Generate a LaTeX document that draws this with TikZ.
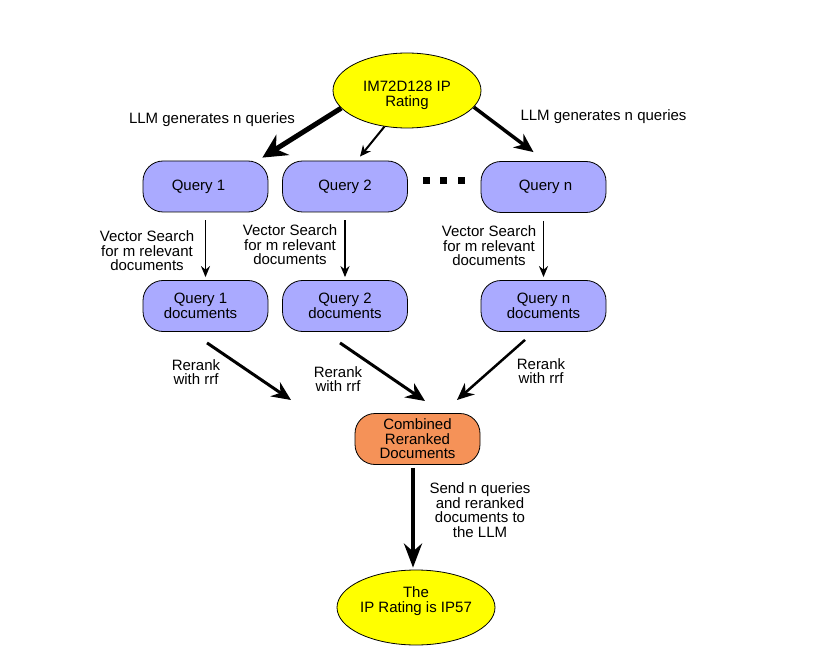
\documentclass[tikz,border=0pt]{standalone}
\usepackage{fontspec}
\setmainfont{Liberation Sans}
\usetikzlibrary{shapes.geometric,arrows.meta}
\definecolor{lemon}{RGB}{255,255,0}
\definecolor{lavender}{RGB}{170,170,255}
\definecolor{salmon}{RGB}{245,146,88}
% text moved up or down inside its shape
\newcommand\nudged[2]{\raisebox{#1}[\height][\depth]{\begin{tabular}{@{}c@{}}#2\end{tabular}}}

\begin{document}
\begin{tikzpicture}[x=1pt,y=-1pt,
  every node/.style={font=\fontsize{15}{14.5}\selectfont,align=center},
  oval/.style={ellipse,draw,line width=0.8pt,fill=lemon,minimum width=148pt,minimum height=75pt,inner sep=0pt},
  pill/.style={draw,line width=0.8pt,fill=lavender,rounded corners=20pt,minimum width=125pt,minimum height=51pt,inner sep=0pt},
  lbl/.style={inner sep=0pt}]
\useasboundingbox (0,0) rectangle (840,660);

% nodes
\node[oval] (R) at (407,90.5) {\nudged{-5.5pt}{IM72D128 IP\\Rating}};
\node[pill] (Q1) at (205.5,186.5) {Query 1\hspace*{14pt}};
\node[pill] (Q2) at (345,186.5) {Query 2};
\node[pill] (Qn) at (543.5,187) {\hspace*{4pt}Query n};
\node[pill] (D1) at (205.5,306) {\nudged{-2pt}{Query 1\\documents}\hspace*{10pt}};
\node[pill] (D2) at (345,306) {Query 2\\documents};
\node[pill] (Dn) at (543.5,306) {Query n\\documents};
\node[pill,fill=salmon] (C) at (417.5,439) {Combined\\Reranked\\Documents};
\node[oval] (F) at (416,607.5) {\nudged{5.5pt}{The\\IP Rating is IP57}};
\foreach \x in {426.5,443.5,461}
  \fill (\x-3.5,177.5) rectangle (\x+3.5,184.5);

% labels
\node[lbl] (L1) at (212,120) {LLM generates n queries};
\node[lbl] (L2) at (603.5,116.5) {LLM generates n queries};
\node[lbl] (V1) at (147,251) {Vector Search\\for m relevant\\documents};
\node[lbl] (V2) at (290,245) {Vector Search\\for m relevant\\documents};
\node[lbl] (Vn) at (489,246) {Vector Search\\for m relevant\\documents};
\node[lbl] (K1) at (196,372) {Rerank\\with rrf};
\node[lbl] (K2) at (338,379) {Rerank\\with rrf};
\node[lbl] (Kn) at (541,371) {Rerank\\with rrf};
\node[lbl] (S) at (480,510) {Send n queries\\and reranked\\documents to\\the LLM};

\coordinate (t1) at (291,400);
\coordinate (t2) at (425,401);
\coordinate (tn) at (457,400);

% edges
\draw[line width=5pt,-{Stealth[length=24pt,width=24pt,inset=8pt]}] (R.195) -- ([xshift=-6pt,yshift=3pt]Q1.north east);
\draw[line width=2pt,-{Stealth[length=11pt,width=10pt]}] (R.238) -- ([xshift=15pt,yshift=4pt]Q2.north);
\draw[line width=3.5pt,-{Stealth[length=19pt,width=17pt]}] (R.346) -- ([xshift=-10pt,yshift=9pt]Qn.north);
\foreach \a/\b in {Q1/D1,Q2/D2,Qn/Dn}
  \draw[line width=1.8pt,-{Stealth[length=11pt,width=9pt]}] ([yshift=-8pt]\a.south) -- ([yshift=3pt]\b.north);
\draw[line width=3pt,-{Stealth[length=19pt,width=17pt]}] ([shift={(1.5pt,-11pt)}]D1.south) -- (t1);
\draw[line width=3pt,-{Stealth[length=19pt,width=17pt]}] ([shift={(-5pt,-11pt)}]D2.south) -- (t2);
\draw[line width=2.5pt,-{Stealth[length=17pt,width=15pt]}] ([shift={(-18.5pt,-8pt)}]Dn.south) -- (tn);
\draw[line width=4pt,-{Stealth[length=24pt,width=18pt]}] ([shift={(-4.5pt,-3pt)}]C.south) -- ([xshift=-3pt,yshift=2pt]F.north);
\end{tikzpicture}
\end{document}
